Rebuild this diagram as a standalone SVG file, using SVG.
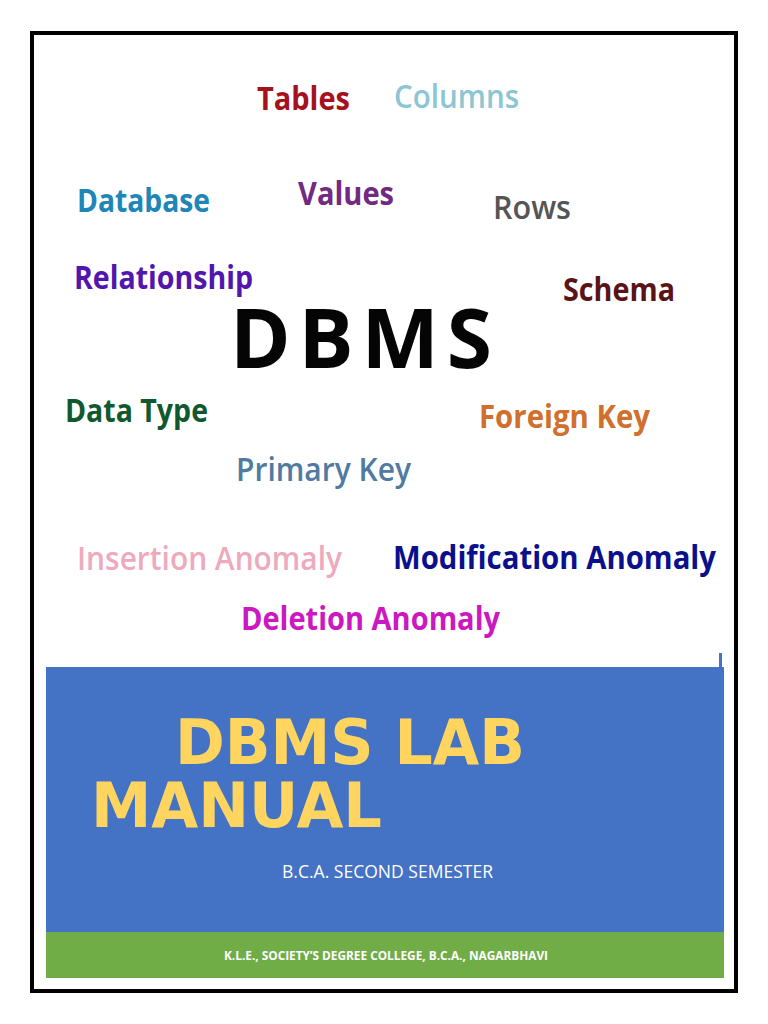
<svg xmlns="http://www.w3.org/2000/svg" width="768" height="1024" viewBox="0 0 768 1024">
<style>
.w{font-family:"Open Sans","Noto Sans","Liberation Sans",sans-serif;font-weight:700;font-size:33px}
.t{font-family:"DejaVu Sans",sans-serif;font-weight:700;font-size:62px;fill:#ffd560}
.s{font-family:"Open Sans","Noto Sans",sans-serif;fill:#fff}
</style>
<rect width="768" height="1024" fill="#fff"/>
<rect x="32" y="33" width="704" height="958" fill="#fff" stroke="#000" stroke-width="4"/>
<g id="words" class="w">
<text x="257" y="110" textLength="93" lengthAdjust="spacingAndGlyphs" fill="#a5121e">Tables</text>
<text x="394" y="108" textLength="125" lengthAdjust="spacingAndGlyphs" fill="#8cc6d2" font-weight="600">Columns</text>
<text x="77" y="212" textLength="133" lengthAdjust="spacingAndGlyphs" fill="#2086b8">Database</text>
<text x="298" y="205" textLength="96" lengthAdjust="spacingAndGlyphs" fill="#722a80">Values</text>
<text x="493" y="219" textLength="78" lengthAdjust="spacingAndGlyphs" fill="#555555" font-weight="600">Rows</text>
<text x="74" y="289" textLength="179" lengthAdjust="spacingAndGlyphs" fill="#5216ae">Relationship</text>
<text x="563" y="301" textLength="112" lengthAdjust="spacingAndGlyphs" fill="#5a1418">Schema</text>
<text x="65" y="422" textLength="143" lengthAdjust="spacingAndGlyphs" fill="#12582e">Data Type</text>
<text x="479" y="428" textLength="171" lengthAdjust="spacingAndGlyphs" fill="#d0702c">Foreign Key</text>
<text x="236" y="481" textLength="175" lengthAdjust="spacingAndGlyphs" fill="#517aa0" font-weight="600">Primary Key</text>
<text x="77" y="570" textLength="265" lengthAdjust="spacingAndGlyphs" fill="#eeaabd" font-weight="600">Insertion Anomaly</text>
<text x="393" y="569" textLength="323" lengthAdjust="spacingAndGlyphs" fill="#0a0f8c">Modification Anomaly</text>
<text x="241" y="630" textLength="259" lengthAdjust="spacingAndGlyphs" fill="#cc18c0">Deletion Anomaly</text>
<text x="230" y="368" textLength="262" style="font-size:82px" fill="#050505">D B M S</text>
</g>
<rect x="719" y="653" width="3" height="15" fill="#4472c4"/>
<rect x="46" y="667" width="678" height="266" fill="#4472c4"/>
<rect x="46" y="932" width="678" height="46" fill="#70ad47"/>
<text class="t" x="175" y="764" textLength="350" lengthAdjust="spacingAndGlyphs">DBMS LAB</text>
<text class="t" x="91" y="827" textLength="291" lengthAdjust="spacingAndGlyphs">MANUAL</text>
<text class="s" x="282" y="878" font-size="18.5" textLength="211" lengthAdjust="spacingAndGlyphs">B.C.A. SECOND SEMESTER</text>
<text class="s" x="224" y="960" font-size="13" font-weight="700" textLength="324" lengthAdjust="spacingAndGlyphs">K.L.E., SOCIETY’S DEGREE COLLEGE, B.C.A., NAGARBHAVI</text>
</svg>
